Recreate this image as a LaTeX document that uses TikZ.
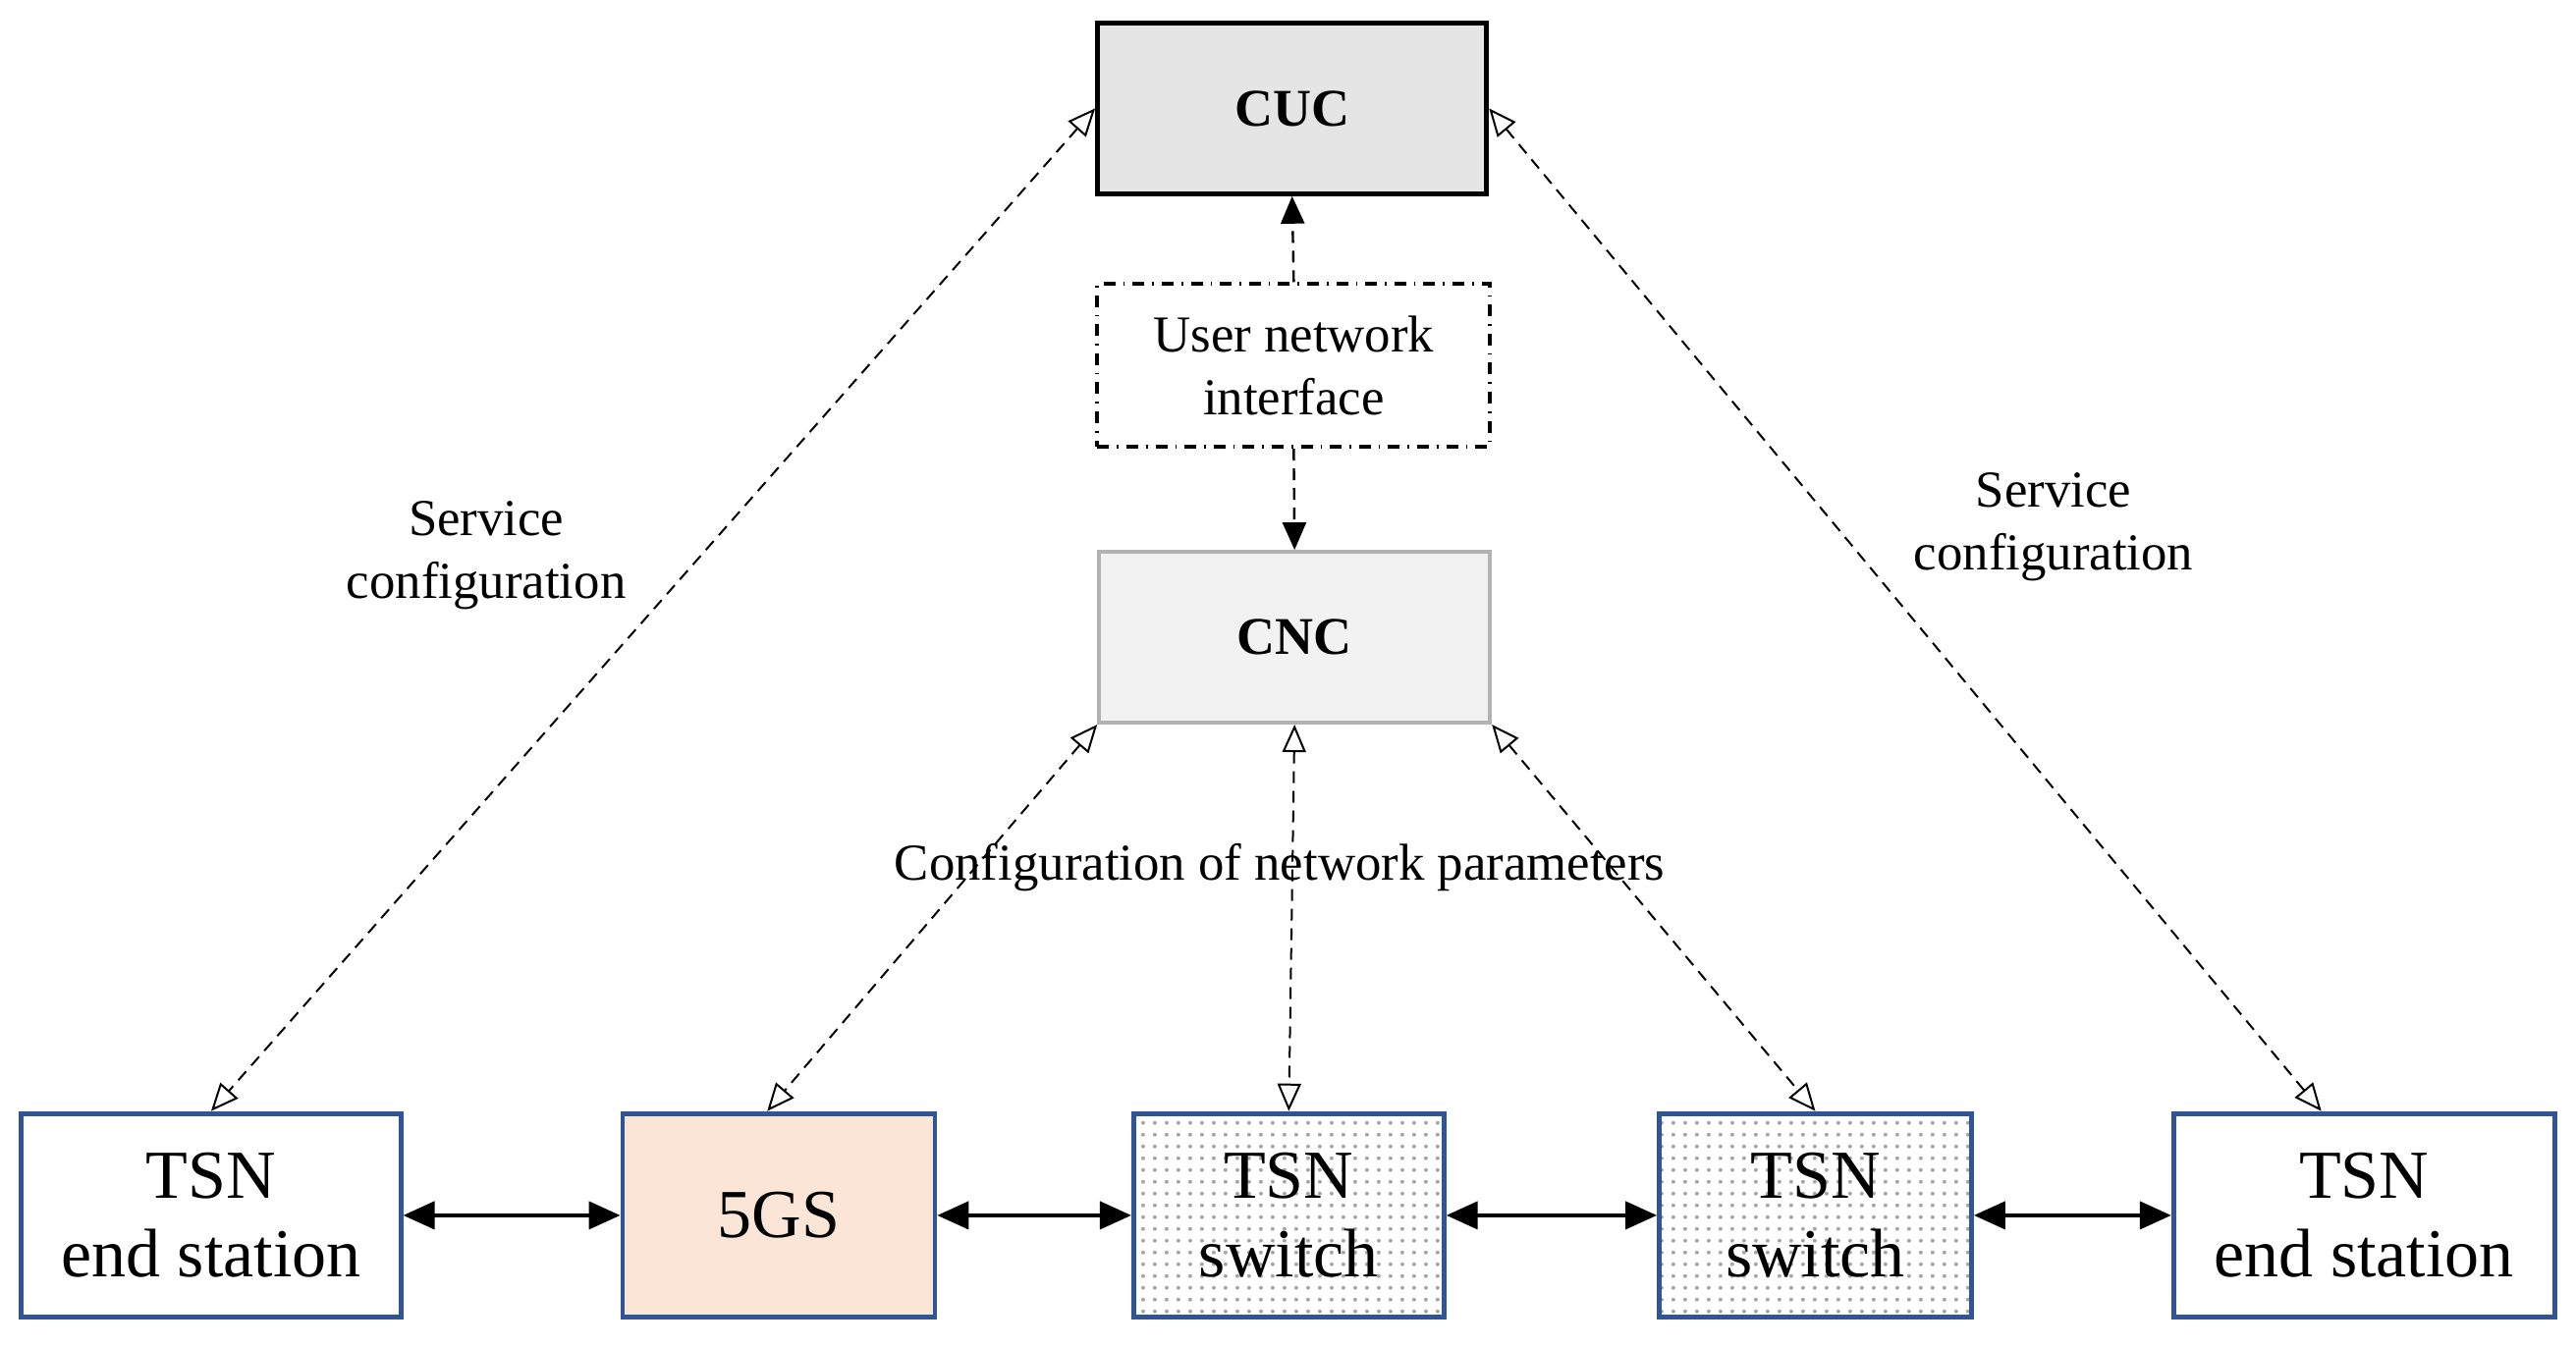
\documentclass[tikz,border=0pt]{standalone}
\usepackage{fontspec}
\setmainfont{Liberation Serif}
\usetikzlibrary{arrows.meta,patterns}
\definecolor{bl}{HTML}{2F5597}
\definecolor{peach}{HTML}{FBE5D6}
\begin{document}
\begin{tikzpicture}[x=0.41825pt,y=-0.41825pt,
 box/.style={draw=bl,line width=1.2pt,minimum height=51.9pt,align=center,font=\fontsize{17.5}{20}\selectfont,inner sep=0pt},
 sw/.style={box,pattern=dots,pattern color=gray!70},
 dsh/.style={densely dashed,line width=0.5pt,{Triangle[open,length=7pt,width=6pt]}-{Triangle[open,length=7pt,width=6pt]}},
 dar/.style={densely dashed,line width=0.6pt,-{Triangle[length=7pt,width=6pt]}},
 sar/.style={line width=1pt,{Triangle[length=8pt,width=7pt]}-{Triangle[length=8pt,width=7pt]}},
 lab/.style={font=\fontsize{13.2}{16}\selectfont,align=center}]
\useasboundingbox (0,0) rectangle (1568,820);
\node[draw,line width=1.2pt,fill=black!10,minimum width=99.1pt,minimum height=43.5pt,font=\fontsize{13.5}{16}\selectfont\bfseries] (cuc) at (786.5,66) {CUC};
\node[draw,dash dot,line width=1pt,minimum width=100pt,minimum height=41.4pt,lab,inner sep=0pt] (uni) at (787.5,222.5) {User network\\interface};
\node[draw=black!30,line width=1pt,fill=black!5,minimum width=99.5pt,minimum height=43.5pt,font=\fontsize{13.5}{16}\selectfont\bfseries] (cnc) at (788,388) {CNC};
\node[box,minimum width=96.6pt] (e1) at (128.5,740) {TSN\\end station};
\node[box,fill=peach,minimum width=79.5pt] (g) at (474,740) {5GS};
\node[sw,minimum width=79pt] (s1) at (784.5,740) {TSN\\switch};
\node[sw,minimum width=79.5pt] (s2) at (1105,740) {TSN\\switch};
\node[box,minimum width=97pt] (e2) at (1439,740) {TSN\\end station};
\draw[sar] (e1) -- (g);
\draw[sar] (g) -- (s1);
\draw[sar] (s1) -- (s2);
\draw[sar] (s2) -- (e2);
\draw[dar] (uni.north) -- (cuc.south);
\draw[dar] (uni.south) -- (cnc.north);
\draw[dsh] (cuc.west) -- (e1.north);
\draw[dsh] (cuc.east) -- (e2.north -| 1413,0);
\draw[dsh] (cnc.south west) -- (g.north -| 467,0);
\draw[dsh] (cnc.south) -- (s1.north);
\draw[dsh] (cnc.south east) -- (s2.north);
\node[lab] (l1) at (296,338) {Service\\configuration};
\node[lab] (l2) at (1250,321) {Service\\configuration};
\node[lab] (l3) at (779,528) {Configuration of network parameters};
\end{tikzpicture}
\end{document}
